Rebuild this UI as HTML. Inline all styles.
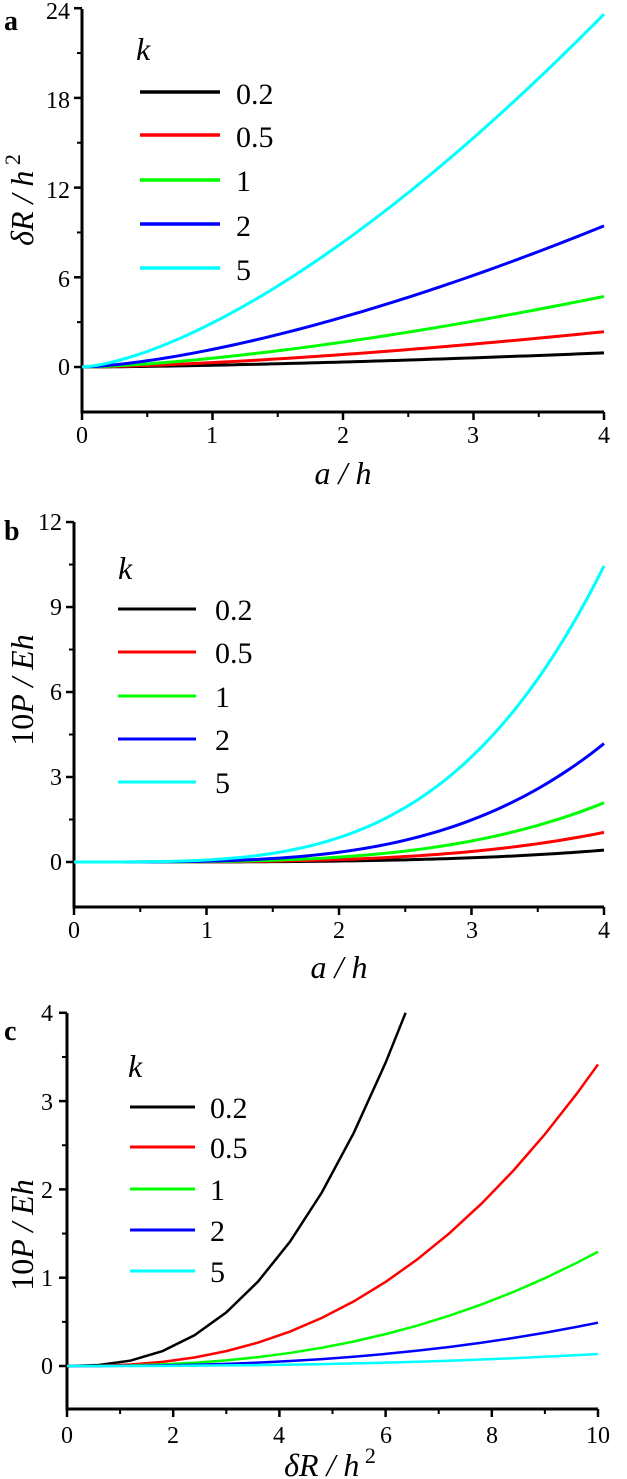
<!DOCTYPE html>
<html><head><meta charset="utf-8"><style>
body{margin:0;background:#fff}
svg{display:block;font-family:"Liberation Serif",serif}
.t{font-size:24px;fill:#000}
.lg{font-size:30px;fill:#000}
.ax{font-size:32px;font-style:italic;fill:#000}
</style></head><body>
<svg id="s" width="627" height="1479" viewBox="0 0 627 1479" xmlns="http://www.w3.org/2000/svg">
<g id="g"></g>
<text x="4" y="30" style="font-size:28px;font-weight:bold">a</text>
<text x="4" y="540" style="font-size:28px;font-weight:bold">b</text>
<text x="4" y="1040" style="font-size:28px;font-weight:bold">c</text>
<g class="t" text-anchor="end">
<text x="70" y="375">0</text><text x="70" y="287">6</text><text x="70" y="198">12</text><text x="70" y="108">18</text><text x="70" y="19">24</text>
</g>
<g class="t" text-anchor="middle">
<text x="82" y="443">0</text><text x="212" y="443">1</text><text x="343" y="443">2</text><text x="473" y="443">3</text><text x="604" y="443">4</text>
</g>
<text class="ax" x="343" y="484" text-anchor="middle">a / h</text>
<text class="ax" transform="translate(33,200) rotate(-90)" text-anchor="middle">δR / h<tspan dy="-13" style="font-style:normal;font-size:22px"> 2</tspan></text>
<text class="ax" x="136" y="60">k</text>
<g class="lg"><text x="236" y="104">0.2</text><text x="236" y="147">0.5</text><text x="236" y="191">1</text><text x="236" y="236">2</text><text x="236" y="280">5</text></g>
<g class="t" text-anchor="end">
<text x="62" y="870">0</text><text x="62" y="785">3</text><text x="62" y="700">6</text><text x="62" y="615">9</text><text x="62" y="530">12</text>
</g>
<g class="t" text-anchor="middle">
<text x="74" y="938">0</text><text x="207" y="938">1</text><text x="339" y="938">2</text><text x="472" y="938">3</text><text x="604" y="938">4</text>
</g>
<text class="ax" x="339" y="978" text-anchor="middle">a / h</text>
<text class="ax" transform="translate(33,690) rotate(-90)" text-anchor="middle"><tspan style="font-style:normal">10</tspan>P / Eh</text>
<text class="ax" x="118" y="579">k</text>
<g class="lg"><text x="215" y="620">0.2</text><text x="215" y="663">0.5</text><text x="215" y="707">1</text><text x="215" y="750">2</text><text x="215" y="793">5</text></g>
<g class="t" text-anchor="end">
<text x="53" y="1374">0</text><text x="53" y="1286">1</text><text x="53" y="1198">2</text><text x="53" y="1110">3</text><text x="53" y="1021">4</text>
</g>
<g class="t" text-anchor="middle">
<text x="67" y="1443">0</text><text x="173" y="1443">2</text><text x="279" y="1443">4</text><text x="386" y="1443">6</text><text x="492" y="1443">8</text><text x="598" y="1443">10</text>
</g>
<text class="ax" transform="translate(33,1235) rotate(-90)" text-anchor="middle"><tspan style="font-style:normal">10</tspan>P / Eh</text>
<text class="ax" x="330" y="1476" text-anchor="middle">δR / h<tspan dy="-13" style="font-style:normal;font-size:22px"> 2</tspan></text>
<text class="ax" x="128" y="1077">k</text>
<g class="lg"><text x="210" y="1118">0.2</text><text x="210" y="1158">0.5</text><text x="210" y="1200">1</text><text x="210" y="1241">2</text><text x="210" y="1282">5</text></g>
</svg>
<script>
var g=document.getElementById('g'),N='http://www.w3.org/2000/svg';
function el(t,a){var e=document.createElementNS(N,t);for(var k in a)e.setAttribute(k,a[k]);g.appendChild(e);return e;}
var ks=[0.2,0.5,1,2,5],cols=['#000','#f00','#0f0','#00f','#0ff'];
function axes(x0,x1,yt,yb,yticks,ymin,xticks,xmin){
 el('line',{x1:x0,y1:yt,x2:x0,y2:yb+1.5,stroke:'#000','stroke-width':3});
 el('line',{x1:x0-1.5,y1:yb,x2:x1,y2:yb,stroke:'#000','stroke-width':3});
 yticks.forEach(function(y){el('line',{x1:x0-8,y1:y,x2:x0,y2:y,stroke:'#000','stroke-width':2.5});});
 ymin.forEach(function(y){el('line',{x1:x0-5,y1:y,x2:x0,y2:y,stroke:'#000','stroke-width':2});});
 xticks.forEach(function(x){el('line',{x1:x,y1:yb,x2:x,y2:yb+8,stroke:'#000','stroke-width':2.5});});
 xmin.forEach(function(x){el('line',{x1:x,y1:yb,x2:x,y2:yb+5,stroke:'#000','stroke-width':2});});
}
var ax=function(v){return 82+130.5*v},ay=function(v){return 367-14.95*v};
axes(82,604,9,412,[0,6,12,18,24].map(ay),[3,9,15,21].map(ay),[0,1,2,3,4].map(ax),[0.5,1.5,2.5,3.5].map(ax));
ks.forEach(function(k,i){var p=[];for(var a=0;a<=4.0001;a+=0.05)p.push(ax(a)+','+ay(0.59*k*Math.pow(a,1.5)));
 el('polyline',{points:p.join(' '),fill:'none',stroke:cols[i],'stroke-width':3});});
[92,135,180,224,268].forEach(function(y,i){el('line',{x1:140,y1:y,x2:220,y2:y,stroke:cols[i],'stroke-width':3.5});});
var bx=function(v){return 74+132.5*v},by=function(v){return 862-28.33*v};
axes(74,604,522,907,[0,3,6,9,12].map(by),[1.5,4.5,7.5,10.5].map(by),[0,1,2,3,4].map(bx),[0.5,1.5,2.5,3.5].map(bx));
ks.forEach(function(k,i){var p=[];for(var a=0;a<=4.0001;a+=0.05)p.push(bx(a)+','+by(2.09*k*Math.pow(a/4,3.6)));
 el('polyline',{points:p.join(' '),fill:'none',stroke:cols[i],'stroke-width':3});});
[609,652,696,739,782].forEach(function(y,i){el('line',{x1:118,y1:y,x2:196,y2:y,stroke:cols[i],'stroke-width':3});});
var cx=function(v){return 67+53.1*v},cy=function(v){return 1366-88.3*v};
axes(67,598,1013,1409,[0,1,2,3,4].map(cy),[0.5,1.5,2.5,3.5].map(cy),[0,2,4,6,8,10].map(cx),[1,3,5,7,9].map(cx));
ks.forEach(function(k,i){var c=0.0108*Math.pow(k/0.5,-1.4),p=[];
 for(var x=0;x<=10.0001;x+=0.6){var y=c*Math.pow(x,2.5);if(y>4){x=Math.pow(4/c,0.4);y=4;p.push(cx(x)+','+cy(y));break;}p.push(cx(x)+','+cy(y));}
 if(x>9.9)p.push(cx(10)+','+cy(c*Math.pow(10,2.5)));
 el('polyline',{points:p.join(' '),fill:'none',stroke:cols[i],'stroke-width':2.5});});
[1107,1147,1189,1230,1271].forEach(function(y,i){el('line',{x1:130,y1:y,x2:195,y2:y,stroke:cols[i],'stroke-width':3});});
</script>
</body></html>
